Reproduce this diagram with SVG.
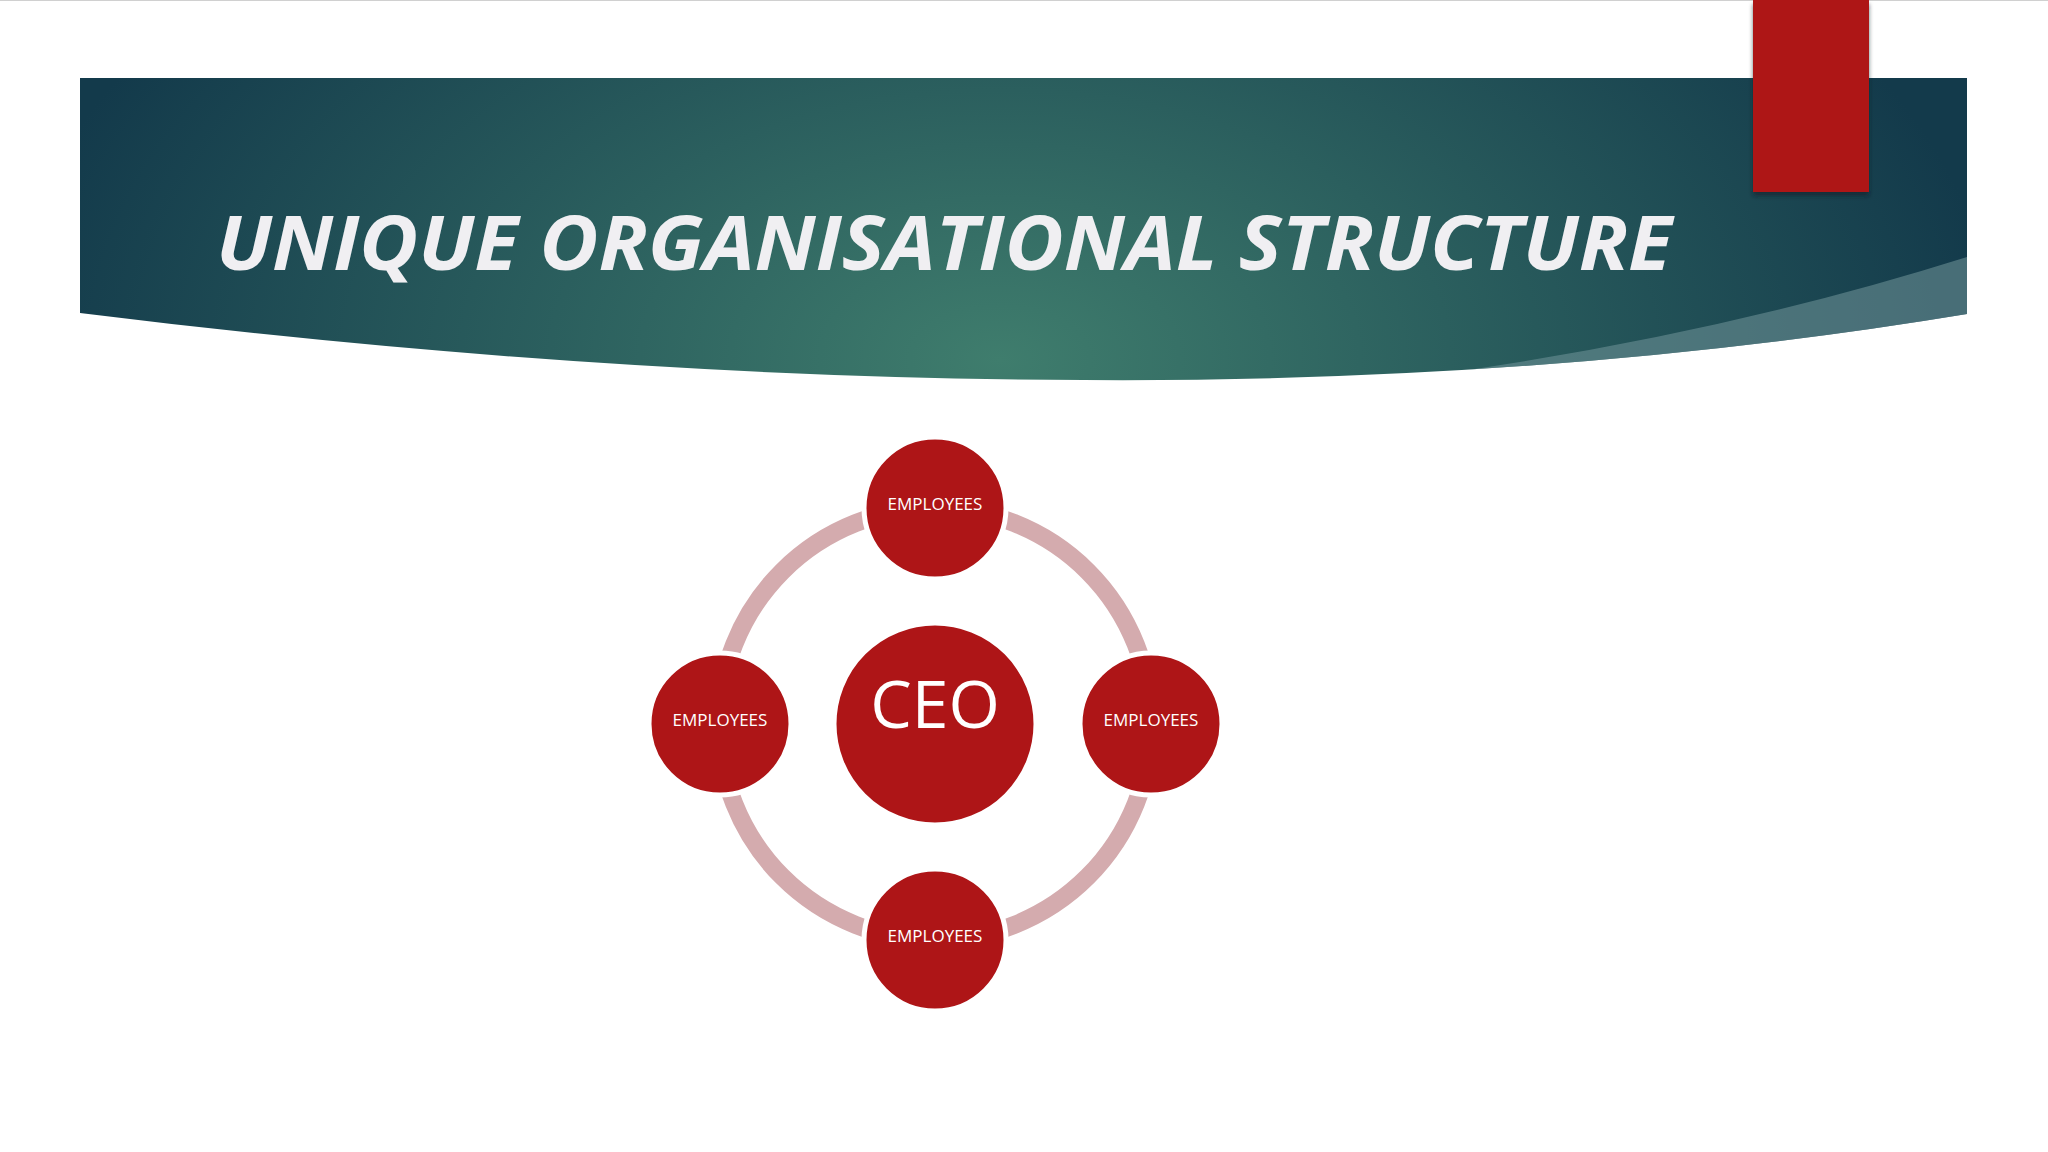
<svg xmlns="http://www.w3.org/2000/svg" width="2048" height="1152" viewBox="0 0 2048 1152">
  <defs>
    <radialGradient id="bannerGrad" gradientUnits="userSpaceOnUse" cx="1000" cy="360" r="1000" gradientTransform="translate(1000 360) scale(1 0.6) translate(-1000 -360)">
      <stop offset="0" stop-color="#3f7d6d"/>
      <stop offset="0.45" stop-color="#2b5f5e"/>
      <stop offset="1" stop-color="#133a4b"/>
    </radialGradient>
    <clipPath id="bannerClip">
      <path d="M80,78 H1967 V314 Q1550,383 1084,380 Q600,378 80,313 Z"/>
    </clipPath>
    <filter id="tabShadow" x="-10%" y="-10%" width="120%" height="120%">
      <feDropShadow dx="0" dy="4" stdDeviation="2" flood-color="#0a1e26" flood-opacity="0.6"/>
    </filter>
  </defs>
  <style>
    .node { fill: #ae1517; stroke: #ffffff; stroke-width: 5; }
    .lbl { font-family: "Open Sans", "Liberation Sans", sans-serif; fill: #ffffff; text-anchor: middle; }
    .emp { font-size: 17px; }
    .ceo { font-size: 66px; }
    .ring { fill: none; stroke: #d4abae; stroke-width: 18; }
  </style>
  <rect width="2048" height="1152" fill="#ffffff"/>
  <line x1="0" y1="0.5" x2="2048" y2="0.5" stroke="#d0d0d0" stroke-width="1"/>

  <g id="banner">
    <path d="M80,78 H1967 V314 Q1550,383 1084,380 Q600,378 80,313 Z" fill="url(#bannerGrad)"/>
    <path d="M1967,257 Q1720,335 1440,374 L1440,440 L1967,440 Z" fill="#6a8f95" opacity="0.6" clip-path="url(#bannerClip)"/>
  </g>

  <g id="tab">
    <rect x="1753" y="0" width="116" height="192" fill="#ae1517" filter="url(#tabShadow)"/>
  </g>

  <g id="title">
    <text x="216" y="270" font-family="'Open Sans', 'Liberation Sans', sans-serif" font-weight="bold" font-style="italic" font-size="76" fill="#f0eff2" textLength="1456" lengthAdjust="spacingAndGlyphs">UNIQUE ORGANISATIONAL STRUCTURE</text>
  </g>

  <g id="connectors">
    <circle class="ring" cx="935" cy="724" r="216"/>
  </g>

  <g id="node-ceo">
    <circle class="node" cx="935" cy="724" r="101"/>
    <text class="lbl ceo" x="935" y="728">CEO</text>
  </g>
  <g id="node-top">
    <circle class="node" cx="935" cy="508" r="71"/>
    <text class="lbl emp" x="935" y="510">EMPLOYEES</text>
  </g>
  <g id="node-left">
    <circle class="node" cx="720" cy="724" r="71"/>
    <text class="lbl emp" x="720" y="726">EMPLOYEES</text>
  </g>
  <g id="node-right">
    <circle class="node" cx="1151" cy="724" r="71"/>
    <text class="lbl emp" x="1151" y="726">EMPLOYEES</text>
  </g>
  <g id="node-bottom">
    <circle class="node" cx="935" cy="940" r="71"/>
    <text class="lbl emp" x="935" y="942">EMPLOYEES</text>
  </g>
</svg>
